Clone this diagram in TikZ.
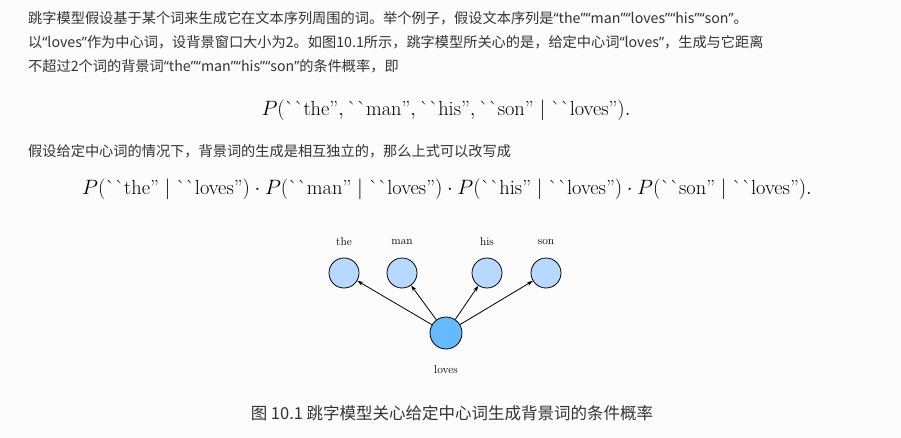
\documentclass[tikz,border=0pt]{standalone}
\usepackage{fontspec}
\usepackage{amsmath}
\usetikzlibrary{arrows.meta}
\newfontfamily\cjk{Noto Sans CJK SC}
\newfontfamily\lat{Noto Sans}
\newcommand{\mylq}{{\lat “}}
\newcommand{\myrq}{{\lat ”}}
\newcommand{\qq}[1]{\text{\`{}\`{}#1''}}
\definecolor{bg}{HTML}{FCFCFC}
\definecolor{txt}{HTML}{333333}
\definecolor{ctx}{HTML}{B7D9FF}
\definecolor{ctr}{HTML}{66BBFF}
\begin{document}
\begin{tikzpicture}[x=1pt,y=-1pt,
  para/.style={anchor=base west,inner sep=0,text=txt,font=\cjk\fontsize{14.2}{16}\selectfont},
  eq/.style={anchor=base,inner sep=0,text=black,font=\fontsize{20.4}{24}\selectfont},
  word/.style={circle,draw=black,line width=0.8pt,minimum size=30pt,inner sep=0,fill=ctx},
  lbl/.style={inner sep=0,font=\fontsize{11.5}{13}\selectfont},
  arr/.style={-{Stealth[length=6pt,width=4pt]},line width=0.8pt}]
\fill[bg] (0,0) rectangle (901,438);
\useasboundingbox (0,0) rectangle (901,438);
\node[para] (l1) at (28,24) {跳字模型假设基于某个词来生成它在文本序列周围的词。举个例子，假设文本序列是\mylq the\myrq\mylq man\myrq\mylq loves\myrq\mylq his\myrq\mylq son\myrq。};
\node[para] (l2) at (28,48) {以\mylq loves\myrq 作为中心词，设背景窗口大小为2。如图10.1所示，跳字模型所关心的是，给定中心词\mylq loves\myrq，生成与它距离};
\node[para] (l3) at (28,72) {不超过2个词的背景词\mylq the\myrq\mylq man\myrq\mylq his\myrq\mylq son\myrq 的条件概率，即};
\node[eq] (f1) at (446,116) {$P(\qq{the},\qq{man},\qq{his},\qq{son}\mid\qq{loves}).$};
\node[para] (l4) at (28,157) {假设给定中心词的情况下，背景词的生成是相互独立的，那么上式可以改写成};
\node[eq] (f2) at (447,195) {$P(\qq{the}\mid\qq{loves})\cdot P(\qq{man}\mid\qq{loves})\cdot P(\qq{his}\mid\qq{loves})\cdot P(\qq{son}\mid\qq{loves}).$};
\node[word] (the) at (344,273) {};
\node[word] (man) at (402,273) {};
\node[word] (his) at (487,273) {};
\node[word] (son) at (546,273) {};
\node[word,fill=ctr,minimum size=32pt] (loves) at (446,333) {};
\node[lbl] at (344,242) {the};
\node[lbl] at (402,242) {man};
\node[lbl] at (487,242) {his};
\node[lbl] at (546,242) {son};
\node[lbl] at (446,370) {loves};
\foreach \t in {the,man,his,son} \draw[arr] (loves) -- (\t);
\node[inner sep=0,text=txt,font=\cjk\fontsize{16.5}{18}\selectfont] (cap) at (452,413) {图 10.1 跳字模型关心给定中心词生成背景词的条件概率};
\end{tikzpicture}
\end{document}
